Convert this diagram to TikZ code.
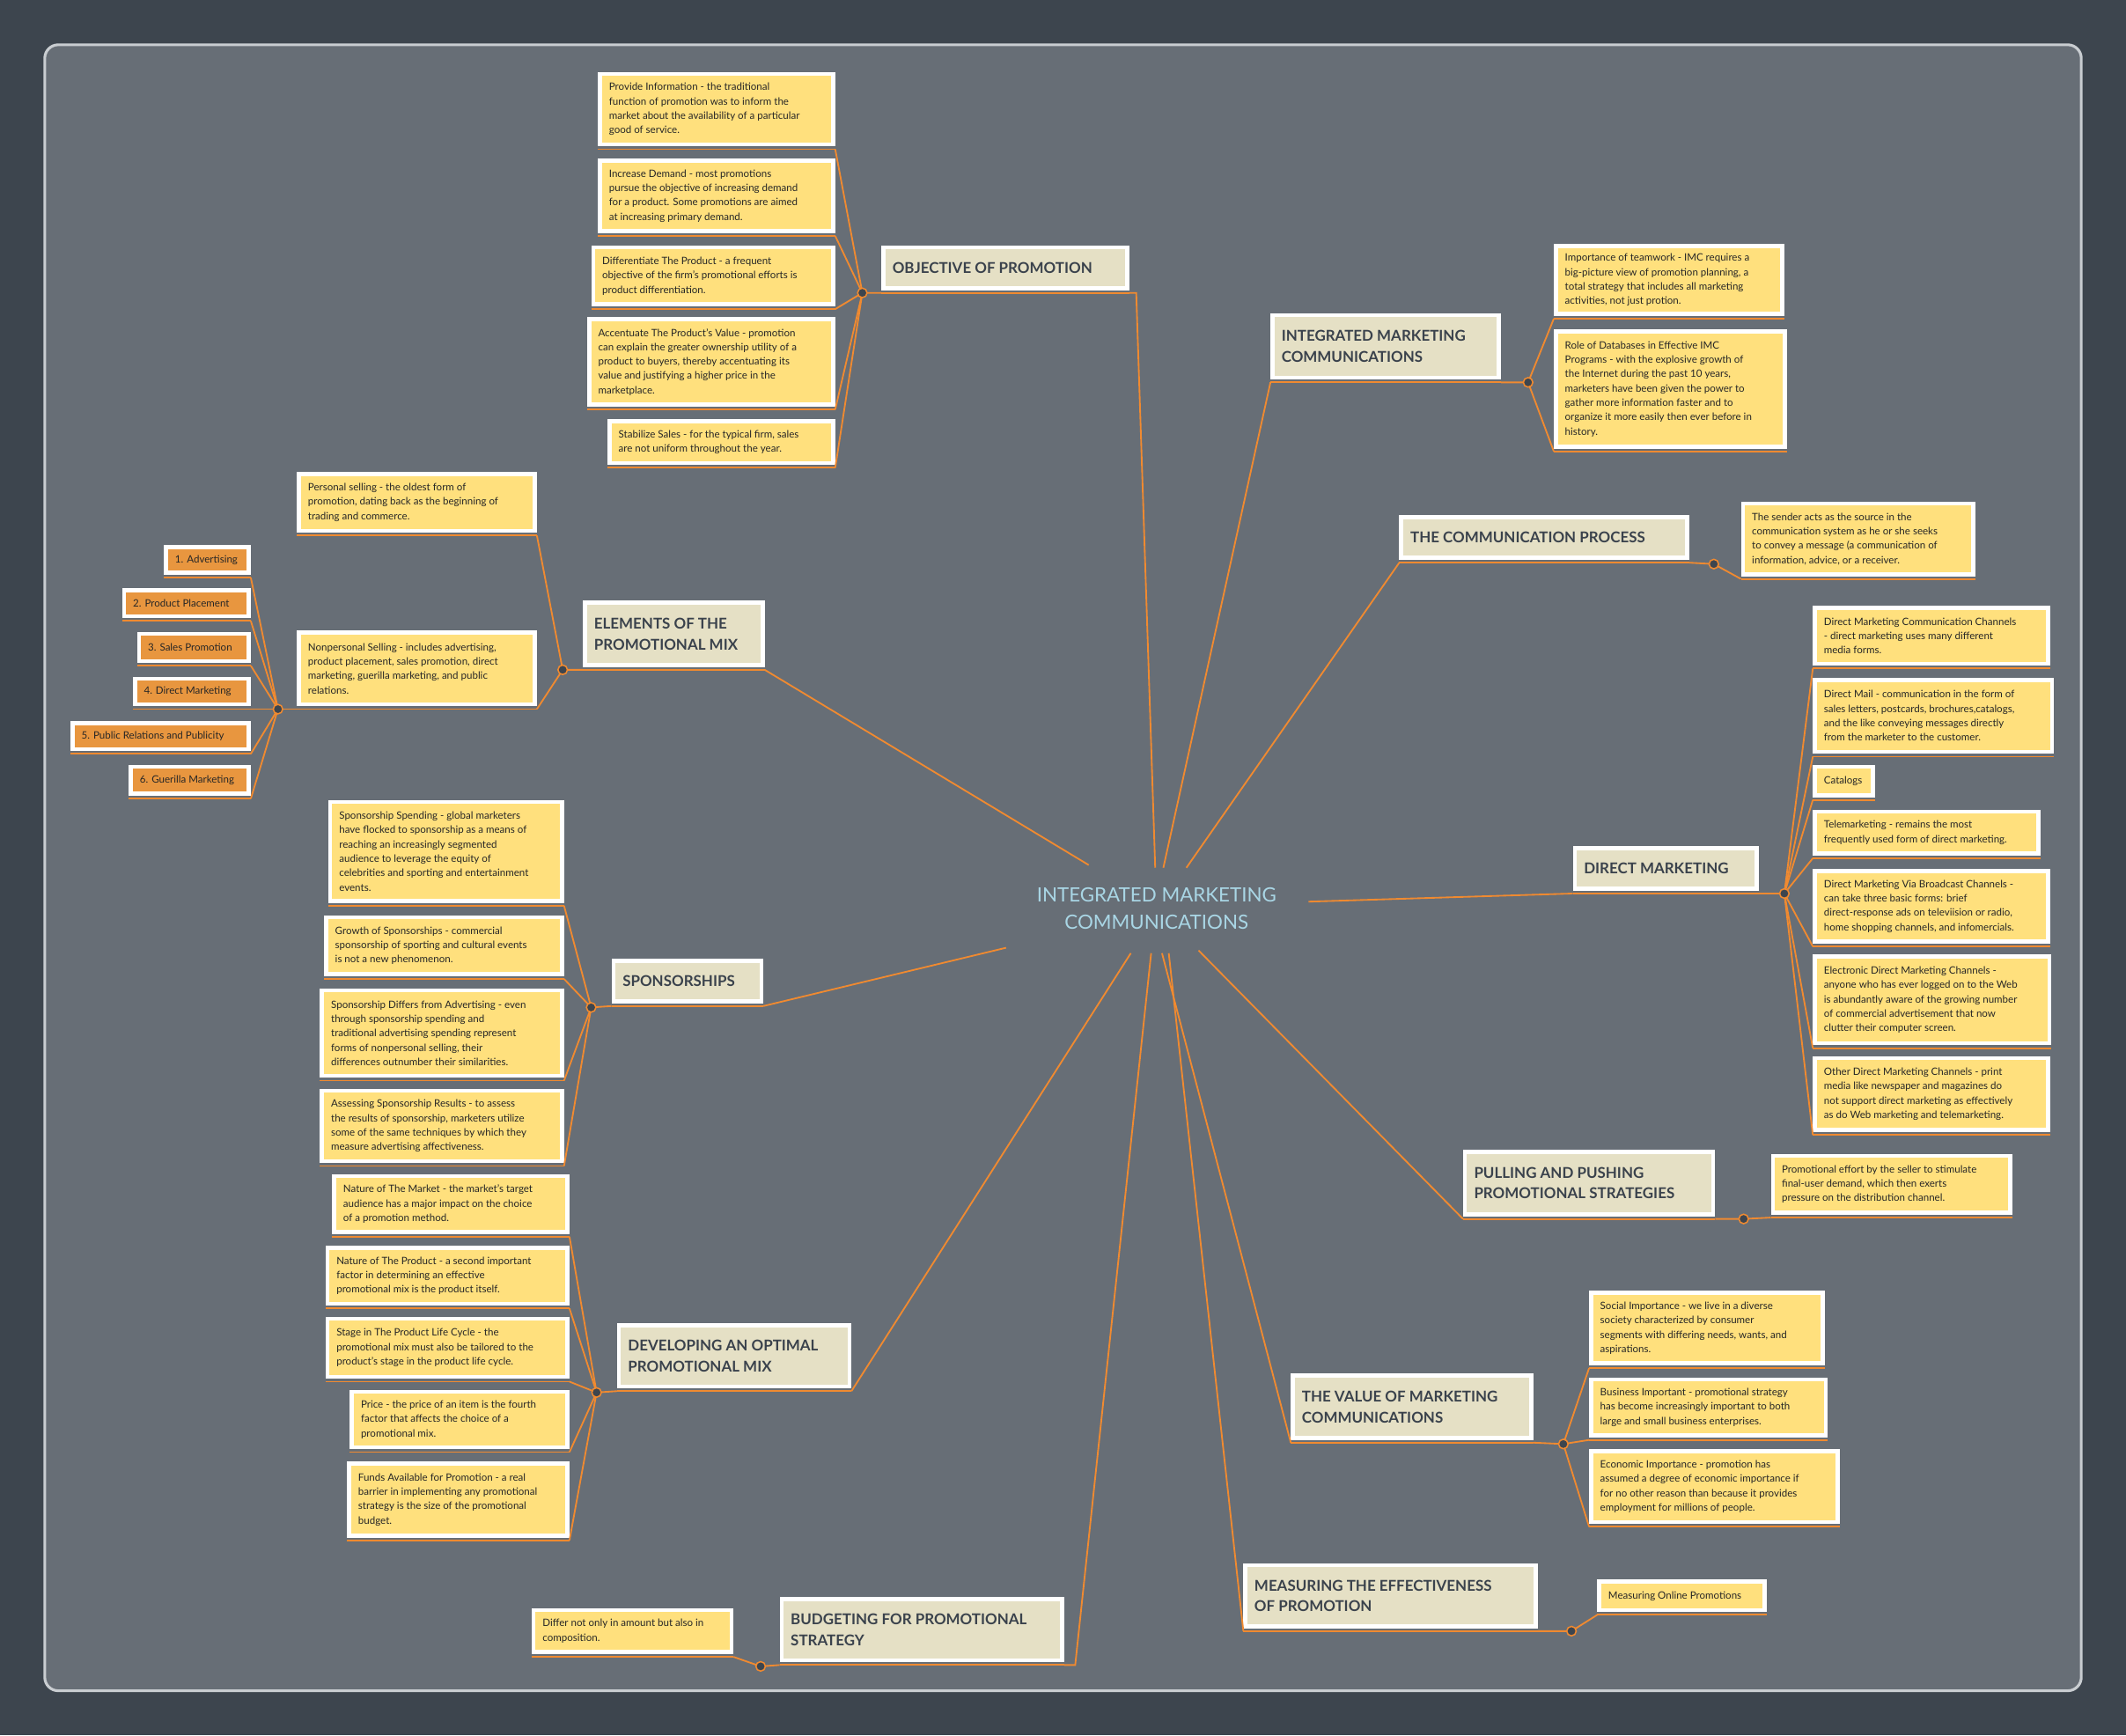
\documentclass[tikz,border=0pt]{standalone}
\usepackage{fontspec}
\setmainfont{Lato}
\definecolor{bgout}{HTML}{3D454E}
\definecolor{bgin}{HTML}{676E76}
\definecolor{frame}{HTML}{C9CDD1}
\definecolor{yel}{HTML}{FFE07D}
\definecolor{org}{HTML}{E8963F}
\definecolor{bei}{HTML}{E5E0C5}
\definecolor{ttx}{HTML}{3A424C}
\definecolor{ln}{HTML}{F08A30}
\definecolor{ctx}{HTML}{A9D6E5}
\tikzset{ul/.style={draw=ln,line width=1.2pt},
 leaftxt/.style={anchor=west,align=left,inner sep=0pt,font=\fontsize{7.5}{10.6}\selectfont,text=black!85},
 toptxt/.style={anchor=west,align=left,inner sep=0pt,font=\fontsize{11}{15.5}\selectfont\bfseries,text=ttx}}
\newcommand\bx[8]{% name x1 y1 x2 y2 fill style text
 \fill[white] (#2,#3) rectangle (#4,#5);
 \fill[#6] (#2+3,#3+3) rectangle (#4-3,#5-3);
 \node[#7] (#1) at (#2+8,{(#3+#5)/2}) {#8};
 \coordinate (#1-l) at (#2,#5+2); \coordinate (#1-r) at (#4,#5+2);
 \draw[ul] (#1-l) -- (#1-r);}
\newcommand\lf[6]{\bx{#1}{#2}{#3}{#4}{#5}{yel}{leaftxt}{#6}}
\newcommand\of[6]{\bx{#1}{#2}{#3}{#4}{#5}{org}{leaftxt}{#6}}
\newcommand\tp[6]{\bx{#1}{#2}{#3}{#4}{#5}{bei}{toptxt}{#6}}
\newcommand\dotat[1]{\filldraw[draw=ln,fill=bgout,line width=1pt] (#1) circle (3.5);}
\begin{document}
\begin{tikzpicture}[x=1pt,y=-1pt]
\fill[bgout] (0,0) rectangle (1568,1280);
\useasboundingbox (0,0) rectangle (1568,1280);
\filldraw[fill=bgin,draw=frame,line width=2pt,rounded corners=10pt] (33,33) rectangle (1535,1247);
\node[font=\fontsize{14.5}{20.5}\selectfont,text=ctx,align=center] (center) at (853,670) {INTEGRATED MARKETING\\COMMUNICATIONS};
\coordinate (c1) at (852,640); \coordinate (c2) at (858,640); \coordinate (c3) at (875,640);
\coordinate (c4) at (803,638); \coordinate (c5) at (965,665); \coordinate (c6) at (742,699);
\coordinate (c7) at (834,703); \coordinate (c8) at (849,703); \coordinate (c9) at (862,703);
\coordinate (c10) at (857,703); \coordinate (c11) at (884,701);
% topics
\tp{obj}{650}{181}{833}{214}{OBJECTIVE OF PROMOTION}
\tp{imc}{937}{231}{1107}{280}{INTEGRATED MARKETING\\COMMUNICATIONS}
\tp{comm}{1032}{380}{1246}{413}{THE COMMUNICATION PROCESS}
\tp{elem}{430}{443}{564}{492}{ELEMENTS OF THE\\PROMOTIONAL MIX}
\tp{dm}{1160}{624}{1297}{657}{DIRECT MARKETING}
\tp{spon}{451}{707}{563}{740}{SPONSORSHIPS}
\tp{pull}{1079}{848}{1265}{897}{PULLING AND PUSHING\\PROMOTIONAL STRATEGIES}
\tp{dev}{455}{976}{628}{1024}{DEVELOPING AN OPTIMAL\\PROMOTIONAL MIX}
\tp{val}{952}{1013}{1131}{1062}{THE VALUE OF MARKETING\\COMMUNICATIONS}
\tp{meas}{917}{1153}{1134}{1201}{MEASURING THE EFFECTIVENESS\\OF PROMOTION}
\tp{bud}{575}{1178}{785}{1226}{BUDGETING FOR PROMOTIONAL\\STRATEGY}
% dots
\coordinate (dobj) at (636,216); \coordinate (dimc) at (1127,282); \coordinate (dcomm) at (1264,416);
\coordinate (delem) at (415,494); \coordinate (ddm) at (1316,659); \coordinate (dspon) at (436,743);
\coordinate (dpull) at (1286,899); \coordinate (ddev) at (440,1027); \coordinate (dval) at (1153,1065);
\coordinate (dmeas) at (1159,1203); \coordinate (dbud) at (561,1229); \coordinate (dnp) at (205,523);
% topic-center links
\draw[ul] (dobj)--(obj-l) (obj-r)--(838,216)--(c1);
\draw[ul] (c2)--(imc-l) (imc-r)--(dimc);
\draw[ul] (c3)--(comm-l) (comm-r)--(dcomm);
\draw[ul] (delem)--(elem-l) (elem-r)--(c4);
\draw[ul] (c5)--(dm-l) (dm-r)--(ddm);
\draw[ul] (dspon)--(spon-l) (spon-r)--(c6);
\draw[ul] (c11)--(pull-l) (pull-r)--(dpull);
\draw[ul] (ddev)--(dev-l) (dev-r)--(c7);
\draw[ul] (c10)--(val-l) (val-r)--(dval);
\draw[ul] (c9)--(meas-l) (meas-r)--(dmeas);
\draw[ul] (dbud)--(bud-l) (bud-r)--(793,1228)--(c8);
% objective
\lf{o1}{441}{53}{616}{108}{Provide Information - the traditional\\function of promotion was to inform the\\market about the availability of a particular\\good of service.}
\lf{o2}{441}{117}{616}{172}{Increase Demand - most promotions\\pursue the objective of increasing demand\\for a product. Some promotions are aimed\\at increasing primary demand.}
\lf{o3}{436}{181}{616}{226}{Differentiate The Product - a frequent\\objective of the firm's promotional efforts is\\product differentiation.}
\lf{o4}{433}{234}{616}{300}{Accentuate The Product's Value - promotion\\can explain the greater ownership utility of a\\product to buyers, thereby accentuating its\\value and justifying a higher price in the\\marketplace.}
\lf{o5}{448}{309}{616}{343}{Stabilize Sales - for the typical firm, sales\\are not uniform throughout the year.}
\foreach \n in {o1,o2,o3,o4,o5} {\draw[ul] (\n-r)--(dobj);}
% imc
\lf{i1}{1146}{180}{1316}{233}{Importance of teamwork - IMC requires a\\big-picture view of promotion planning, a\\total strategy that includes all marketing\\activities, not just protion.}
\lf{i2}{1146}{243}{1318}{331}{Role of Databases in Effective IMC\\Programs - with the explosive growth of\\the Internet during the past 10 years,\\marketers have been given the power to\\gather more information faster and to\\organize it more easily then ever before in\\history.}
\foreach \n in {i1,i2} {\draw[ul] (\n-l)--(dimc);}
% comm
\lf{cm1}{1284}{370}{1457}{425}{The sender acts as the source in the\\communication system as he or she seeks\\to convey a message (a communication of\\information, advice, or a receiver.}
\draw[ul] (cm1-l)--(dcomm);
% elements
\lf{e1}{219}{348}{396}{393}{Personal selling - the oldest form of\\promotion, dating back as the beginning of\\trading and commerce.}
\lf{e2}{219}{465}{396}{521}{Nonpersonal Selling - includes advertising,\\product placement, sales promotion, direct\\marketing, guerilla marketing, and public\\relations.}
\foreach \n in {e1,e2} {\draw[ul] (\n-r)--(delem);}
\of{a1}{121}{402}{185}{424}{1. Advertising}
\of{a2}{90}{434}{185}{456}{2. Product Placement}
\of{a3}{101}{466}{185}{489}{3. Sales Promotion}
\of{a4}{98}{499}{185}{521}{4. Direct Marketing}
\of{a5}{52}{532}{185}{554}{5. Public Relations and Publicity}
\of{a6}{95}{564}{185}{587}{6. Guerilla Marketing}
\draw[ul] (e2-l)--(dnp);
\foreach \n in {a1,a2,a3,a4,a5,a6} {\draw[ul] (\n-r)--(dnp);}
% direct marketing
\lf{d1}{1337}{447}{1512}{491}{Direct Marketing Communication Channels\\- direct marketing uses many different\\media forms.}
\lf{d2}{1337}{500}{1515}{556}{Direct Mail - communication in the form of\\sales letters, postcards, brochures,catalogs,\\and the like conveying messages directly\\from the marketer to the customer.}
\lf{d3}{1337}{564}{1383}{588}{Catalogs}
\lf{d4}{1337}{597}{1505}{631}{Telemarketing - remains the most\\frequently used form of direct marketing.}
\lf{d5}{1337}{641}{1512}{696}{Direct Marketing Via Broadcast Channels -\\can take three basic forms: brief\\direct-response ads on televiision or radio,\\home shopping channels, and infomercials.}
\lf{d6}{1337}{704}{1513}{771}{Electronic Direct Marketing Channels -\\anyone who has ever logged on to the Web\\is abundantly aware of the growing number\\of commercial advertisement that now\\clutter their computer screen.}
\lf{d7}{1337}{779}{1512}{835}{Other Direct Marketing Channels - print\\media like newspaper and magazines do\\not support direct marketing as effectively\\as do Web marketing and telemarketing.}
\foreach \n in {d1,d2,d3,d4,d5,d6,d7} {\draw[ul] (\n-l)--(ddm);}
% sponsorships
\lf{s1}{242}{590}{416}{666}{Sponsorship Spending - global marketers\\have flocked to sponsorship as a means of\\reaching an increasingly segmented\\audience to leverage the equity of\\celebrities and sporting and entertainment\\events.}
\lf{s2}{239}{675}{416}{720}{Growth of Sponsorships - commercial\\sponsorship of sporting and cultural events\\is not a new phenomenon.}
\lf{s3}{236}{729}{416}{795}{Sponsorship Differs from Advertising - even\\through sponsorship spending and\\traditional advertising spending represent\\forms of nonpersonal selling, their\\differences outnumber their similarities.}
\lf{s4}{236}{803}{416}{858}{Assessing Sponsorship Results - to assess\\the results of sponsorship, marketers utilize\\some of the same techniques by which they\\measure advertising affectiveness.}
\foreach \n in {s1,s2,s3,s4} {\draw[ul] (\n-r)--(dspon);}
% pull
\lf{p1}{1306}{851}{1484}{896}{Promotional effort by the seller to stimulate\\final-user demand, which then exerts\\pressure on the distribution channel.}
\draw[ul] (p1-l)--(dpull);
% developing
\lf{v1}{245}{866}{420}{910}{Nature of The Market - the market's target\\audience has a major impact on the choice\\of a promotion method.}
\lf{v2}{240}{919}{420}{963}{Nature of The Product - a second important\\factor in determining an effective\\promotional mix is the product itself.}
\lf{v3}{240}{971}{420}{1017}{Stage in The Product Life Cycle - the\\promotional mix must also be tailored to the\\product's stage in the product life cycle.}
\lf{v4}{258}{1025}{420}{1069}{Price - the price of an item is the fourth\\factor that affects the choice of a\\promotional mix.}
\lf{v5}{256}{1078}{420}{1134}{Funds Available for Promotion - a real\\barrier in implementing any promotional\\strategy is the size of the promotional\\budget.}
\foreach \n in {v1,v2,v3,v4,v5} {\draw[ul] (\n-r)--(ddev);}
% value
\lf{w1}{1172}{952}{1346}{1007}{Social Importance - we live in a diverse\\society characterized by consumer\\segments with differing needs, wants, and\\aspirations.}
\lf{w2}{1172}{1016}{1348}{1060}{Business Important - promotional strategy\\has become increasingly important to both\\large and small business enterprises.}
\lf{w3}{1172}{1069}{1357}{1124}{Economic Importance - promotion has\\assumed a degree of economic importance if\\for no other reason than because it provides\\employment for millions of people.}
\foreach \n in {w1,w2,w3} {\draw[ul] (\n-l)--(dval);}
% measuring
\lf{m1}{1178}{1165}{1303}{1189}{Measuring Online Promotions}
\draw[ul] (m1-l)--(dmeas);
% budgeting
\lf{b1}{392}{1186}{541}{1220}{Differ not only in amount but also in\\composition.}
\draw[ul] (b1-r)--(dbud);
\foreach \d in {dobj,dimc,dcomm,delem,ddm,dspon,dpull,ddev,dval,dmeas,dbud,dnp} {\dotat{\d}}
\end{tikzpicture}
\end{document}
